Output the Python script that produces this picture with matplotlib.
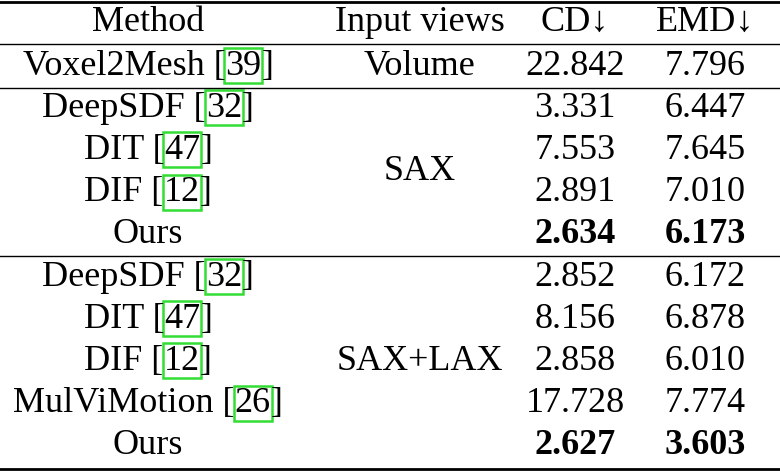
import matplotlib
matplotlib.use("Agg")
import matplotlib.pyplot as plt
from matplotlib.patches import Rectangle

headers = ["Method", "Input views", "CD↓", "EMD↓"]
methods = [("Voxel2Mesh", "39"), ("DeepSDF", "32"), ("DIT", "47"), ("DIF", "12"), ("Ours", None),
           ("DeepSDF", "32"), ("DIT", "47"), ("DIF", "12"), ("MulViMotion", "26"), ("Ours", None)]
cd = ["22.842", "3.331", "7.553", "2.891", "2.634", "2.852", "8.156", "2.858", "17.728", "2.627"]
emd = ["7.796", "6.447", "7.645", "7.010", "6.173", "6.172", "6.878", "6.010", "7.774", "3.603"]
bold_rows = [4, 9]
groups = [("Volume", 0, 0), ("SAX", 1, 4), ("SAX+LAX", 5, 9)]

W, H = 780, 474
fig = plt.figure(figsize=(W/100, H/100), dpi=100)
ax = fig.add_axes([0, 0, 1, 1])
ax.set_xlim(0, W); ax.set_ylim(H, 0); ax.axis("off")
fam = ["Liberation Serif", "DejaVu Serif"]
fs = 26
col_x = [148, 420, 575, 705]
row_y = [22] + [66 + i * 42.2 for i in range(10)]
r = fig.canvas.get_renderer()

for x, h in zip(col_x, headers):
    ax.text(x, row_y[0], h, ha="center", va="center", fontsize=fs, family=fam)

def width(s, weight="normal"):
    t = ax.text(0, 0, s, fontsize=fs, family=fam, weight=weight)
    w = t.get_window_extent(r).width
    t.remove()
    return w

for i, (name, cite) in enumerate(methods):
    y = row_y[i + 1]
    if cite is None:
        ax.text(col_x[0], y, name, ha="center", va="center", fontsize=fs, family=fam)
        continue
    parts = [name + " [", cite, "]"]
    ws = [width(p) for p in parts]
    x = col_x[0] - sum(ws) / 2
    for j, (p, w) in enumerate(zip(parts, ws)):
        ax.text(x, y, p, ha="left", va="center", fontsize=fs, family=fam)
        if j == 1:
            ax.add_patch(Rectangle((x - 1, y - 18), w + 2, 35, fill=False, ec="#33dd33", lw=1.8))
        x += w

for i in range(10):
    y = row_y[i + 1]
    wgt = "bold" if i in bold_rows else "normal"
    ax.text(col_x[2], y, cd[i], ha="center", va="center", fontsize=fs, family=fam, weight=wgt)
    ax.text(col_x[3], y, emd[i], ha="center", va="center", fontsize=fs, family=fam, weight=wgt)

for g, a, b in groups:
    ax.text(col_x[1], (row_y[a + 1] + row_y[b + 1]) / 2, g, ha="center", va="center", fontsize=fs, family=fam)

for y, lw in [(2, 2), (44, 1), (88, 1), (256, 1), (469, 2)]:
    ax.plot([0, W], [y, y], color="black", lw=lw)

fig.savefig("out.png", dpi=100)
